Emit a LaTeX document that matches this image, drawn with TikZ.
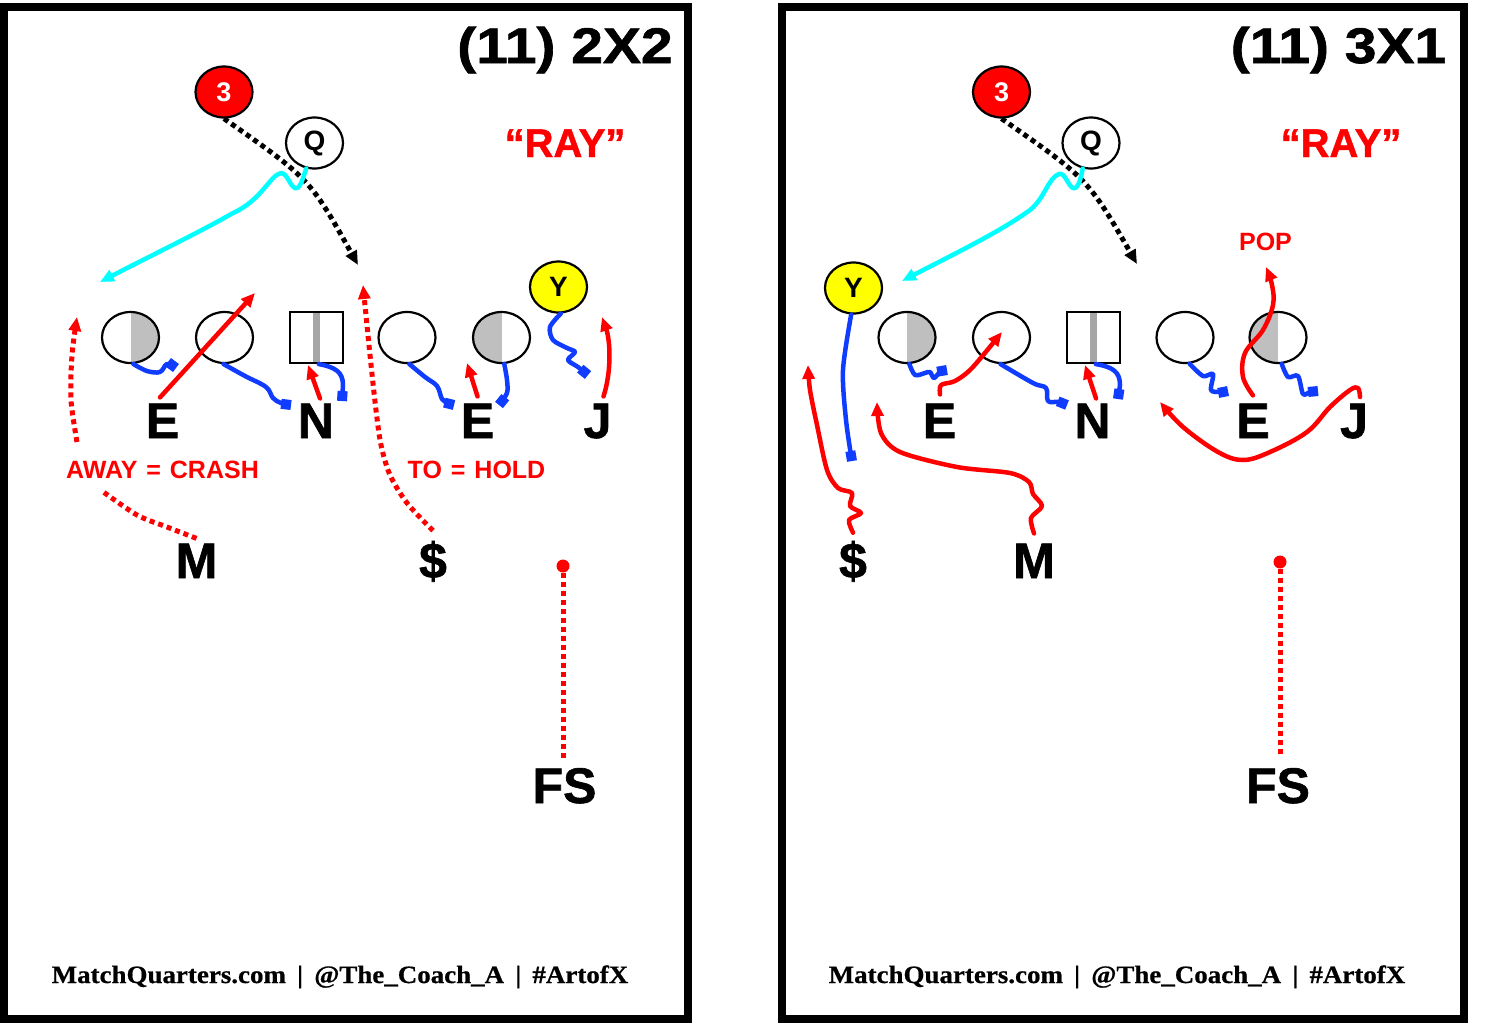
\documentclass[tikz,border=0pt]{standalone}
\usepackage{fontspec}
\usepackage{graphicx}
\setmainfont{Liberation Sans}
\newfontfamily\footfont{Liberation Serif}[UprightFont=*-Bold, FakeBold=0.6]
\newfontfamily\heavyfont{Liberation Sans}[UprightFont=*-Bold, FakeBold=1.2]
\usetikzlibrary{arrows.meta,shapes.geometric}
\definecolor{rblue}{RGB}{15,60,255}
\definecolor{halfgray}{RGB}{191,191,191}
\definecolor{barg}{RGB}{166,166,166}
\definecolor{aqua}{RGB}{0,255,255}
\definecolor{pred}{RGB}{255,0,0}
\definecolor{pyel}{RGB}{255,255,0}
\begin{document}
\begin{tikzpicture}[x=1pt,y=-1pt,
  frame/.style={line width=8pt},
  pl/.style={ellipse, draw=black, line width=2.2pt, minimum width=57pt, minimum height=51pt, inner sep=0pt, fill=white, font=\bfseries\fontsize{28}{28}\selectfont},
  rhalf/.style={path picture={\fill[halfgray] (path picture bounding box.north) rectangle (path picture bounding box.south east);}},
  lhalf/.style={path picture={\fill[halfgray] (path picture bounding box.north) rectangle (path picture bounding box.south west);}},
  cbox/.style={rectangle, draw=black, line width=2.2pt, minimum width=53pt, minimum height=51pt, inner sep=0pt, fill=white,
     path picture={\fill[barg] ([xshift=-3.5pt]path picture bounding box.north) rectangle ([xshift=3.5pt]path picture bounding box.south);}},
  big/.style={font=\heavyfont\fontsize{50}{50}\selectfont, inner sep=0pt, anchor=base},
  ttl/.style={font=\heavyfont\fontsize{50}{50}\selectfont, inner sep=0pt, anchor=base},
  ray/.style={font=\heavyfont\fontsize{40}{40}\selectfont, text=pred, inner sep=0pt, anchor=base},
  lab/.style={font=\bfseries\fontsize{25}{25}\selectfont, text=pred, inner sep=0pt, anchor=base},
  foot/.style={font=\footfont\fontsize{25}{25}\selectfont, inner sep=0pt, anchor=base},
  fsdot/.style={circle, fill=pred, minimum size=13pt, inner sep=0pt},
  rt/.style={line width=4.5pt, line cap=round, line join=round},
  tri/.style={-{Triangle[length=14pt,width=12pt]}},
  blk/.style={-{Square[length=10pt,width=10pt]}},
  dotl/.style={line width=5pt, dash pattern=on 5pt off 4pt},
]
\useasboundingbox (0,0) rectangle (1486,1023);
\fill[white] (0,0) rectangle (1486,1023);
\draw[frame] (4,7) rectangle (688,1019);
\draw[frame] (782,7) rectangle (1464,1019);

% ================= LEFT PANEL =================
\node[ttl] (t1) at (565,63) {\scalebox{1.14}[1]{(11) 2X2}};
\node[ray] (r1) at (565,157) {“RAY”};
\node[pl, fill=pred, text=white, font=\bfseries\fontsize{27}{27}\selectfont] (thr1) at (224,92) {3};
\node[pl] (q1) at (314.5,143) {Q};
\node[pl, rhalf] (a1) at (130.5,337.5) {};
\node[pl] (a2) at (224.5,337.5) {};
\node[cbox] (a3) at (316.5,337.5) {};
\node[pl] (a4) at (407,337.5) {};
\node[pl, lhalf] (a5) at (501.5,337.5) {};
\node[pl, fill=pyel] (y1) at (558.5,287) {Y};
\node[big] (e1) at (162.5,438) {E};
\node[big] (n1) at (316,438) {N};
\node[big] (e2) at (477.5,438) {E};
\node[big] (j1) at (597.5,438) {J};
\node[big] (m1) at (196.5,578) {M};
\node[big] (s1) at (433,578) {\$};
\node[big] (fs1) at (564.5,803) {FS};
\node[lab] (aw) at (162.5,478) {AWAY\hspace{2pt} = \hspace{2pt}CRASH};
\node[lab] (to) at (476.5,478) {TO\hspace{2pt} = \hspace{2pt}HOLD};
\node[fsdot] (fd1) at (563,566) {};
\node[foot] (f1) at (340,983) {\scalebox{1.078}[1]{MatchQuarters.com \,|\, @The\_Coach\_A \,|\, \#ArtofX}};

\coordinate (bk1) at (358,265);
\coordinate (cy1) at (100,282);
\coordinate (ra1) at (255,293);
\coordinate (rn1) at (308,365);
\coordinate (re2) at (467,363);
\coordinate (rj1) at (602,317);

\draw[dotl, black, -{Triangle[length=14pt,width=12pt]}] (thr1.south) .. controls (310,179) .. (bk1);
\draw[rt, aqua, tri] (q1.-108) .. controls (303,178) and (300,190) .. (295,188) .. controls (290,186) and (287,173) .. (281,173) .. controls (270,175) and (262,200) .. (233,213) .. controls (200,232) and (150,256) .. (cy1);

\draw[rt, rblue, blk] plot[smooth, tension=0.6] coordinates {(a1.-84) (147,371) (160,372) (167,364) (176,368)};
\draw[rt, rblue, blk] plot[smooth, tension=0.6] coordinates {(a2.-92) (245,376) (266,387) (273,398) (281,403) (291,405)};
\draw[rt, pred, tri] ([xshift=-2.5pt,yshift=6pt]e1.north) -- (ra1);
\draw[rt, pred, tri] ([xshift=4pt,yshift=5pt]n1.north) -- (rn1);
\draw[rt, rblue, blk] (a3.-85) .. controls (335,367) and (343,372) .. (343,385) -- (342,401);
\draw[dotl, pred] plot[smooth] coordinates {([yshift=5pt]m1.north) (167,527) (137,515) (102,491)};
\draw[dotl, pred, tri] plot[smooth] coordinates {(77,442) (71,400) (72,355) (77,317)};
\draw[dotl, pred, tri] plot[smooth] coordinates {([yshift=10pt]s1.north) (407,503) (390,475) (381,445) (376,410) (370,355) (363,285)};
\draw[rt, rblue, blk] plot[smooth, tension=0.6] coordinates {(a4.-85) (425,377) (437,386) (442,399) (448,403) (454,405)};
\draw[rt, pred, tri] ([yshift=7pt]e2.north) -- (re2);
\draw[rt, rblue, blk] plot[smooth] coordinates {(a5.-84) (507,380) (507,393) (499,405)};
\draw[rt, rblue, blk] plot[smooth, tension=0.5] coordinates {(y1.-85) (550,327) (553,340) (567,348) (575,352) (568,360) (578,367) (588,375)};
\draw[rt, pred, tri] ([xshift=6pt,yshift=7pt]j1.north) .. controls (612,370) and (610,340) .. (rj1);
\draw[dotl, pred] (fd1.south) -- ([yshift=7pt]fd1.south |- fs1.north);

% ================= RIGHT PANEL =================
\node[ttl] (t2) at (1338.5,63) {\scalebox{1.14}[1]{(11) 3X1}};
\node[ray] (r2) at (1341,157) {“RAY”};
\node[pl, fill=pred, text=white, font=\bfseries\fontsize{27}{27}\selectfont] (thr2) at (1001.5,92) {3};
\node[pl] (q2) at (1091,143) {Q};
\node[pl, fill=pyel] (y2) at (853.5,288) {Y};
\node[pl, rhalf] (b1) at (907,337.5) {};
\node[pl] (b2) at (1001.5,337.5) {};
\node[cbox] (b3) at (1093.5,337.5) {};
\node[pl] (b4) at (1185,337.5) {};
\node[pl, lhalf] (b5) at (1278,337.5) {};
\node[big] (e3) at (939.5,438) {E};
\node[big] (n2) at (1092.5,438) {N};
\node[big] (e4) at (1253,438) {E};
\node[big] (j2) at (1354,438) {J};
\node[big] (s2) at (853,578) {\$};
\node[big] (m2) at (1034,578) {M};
\node[big] (fs2) at (1278,803) {FS};
\node[lab] (pop) at (1265.5,250) {POP};
\node[fsdot] (fd2) at (1280,562) {};
\node[foot] (f2) at (1117,983) {\scalebox{1.078}[1]{MatchQuarters.com \,|\, @The\_Coach\_A \,|\, \#ArtofX}};

\coordinate (bk2) at (1137,264);
\coordinate (cy2) at (902,281);
\coordinate (rs2) at (808,365);
\coordinate (rm2) at (877,402);
\coordinate (re3) at (1002,332);
\coordinate (rn2) at (1085,365);
\coordinate (rp) at (1266,267);
\coordinate (rj2) at (1160,402);

\draw[dotl, black, -{Triangle[length=14pt,width=12pt]}] (thr2.south) .. controls (1088,179) .. (bk2);
\draw[rt, aqua, tri] (q2.-108) .. controls (1081,178) and (1078,190) .. (1073,188) .. controls (1068,186) and (1065,172) .. (1059,174) .. controls (1048,178) and (1045,198) .. (1030,210) .. controls (1000,232) and (950,256) .. (cy2);

\draw[rt, rblue, blk] plot[smooth] coordinates {(y2.-95) (843,370) (846,420) (852,461)};
\draw[rt, pred, tri] plot[smooth, tension=0.5] coordinates {([yshift=8pt]s2.north) (849,520) (861,513) (850,506) (852,493) (838,488) (827,470) (817,425) (810,390) (rs2)};
\draw[rt, pred, tri] plot[smooth, tension=0.5] coordinates {([yshift=10pt]m2.north) (1031,518) (1042,506) (1033,494) (1029,482) (1010,473) (957,467) (900,452) (881,433) (rm2)};
\draw[rt, rblue, blk] plot[smooth, tension=0.5] coordinates {(b1.-85) (915,375) (925,373) (930,372) (934,378) (940,372) (947,370)};
\draw[rt, pred, tri] plot[smooth, tension=0.5] coordinates {([xshift=0.5pt,yshift=9pt]e3.north) (941,385) (955,381) (972,368) (re3)};
\draw[rt, rblue, blk] plot[smooth, tension=0.6] coordinates {(b2.-92) (1033,383) (1046,388) (1048,401) (1058,402) (1067,405)};
\draw[rt, pred, tri] ([xshift=3.5pt,yshift=5pt]n2.north) -- (rn2);
\draw[rt, rblue, blk] (b3.-85) .. controls (1113,367) and (1120,372) .. (1120,385) -- (1118,399);
\draw[rt, rblue, blk] plot[smooth, tension=0.5] coordinates {(b4.-80) (1203,376) (1213,374) (1211,390) (1220,392) (1228,391)};
\draw[rt, rblue, blk] plot[smooth, tension=0.5] coordinates {(b5.-82) (1288,377) (1298,376) (1303,394) (1310,392) (1318,391)};
\draw[rt, pred, tri] plot[smooth, tension=0.6] coordinates {([yshift=8pt]e4.north) (1243,377) (1245,353) (1263,330) (1273,305) (1272,285) (rp)};
\draw[rt, pred, tri] plot[smooth, tension=0.6] coordinates {(1360,397) (1358,388) (1350,390) (1330,407) (1307,432) (1270,452) (1243,460) (1218,452) (1183,427) (rj2)};
\draw[dotl, pred] (fd2.south) -- ([yshift=14pt]fd2.south |- fs2.north);
\end{tikzpicture}
\end{document}
